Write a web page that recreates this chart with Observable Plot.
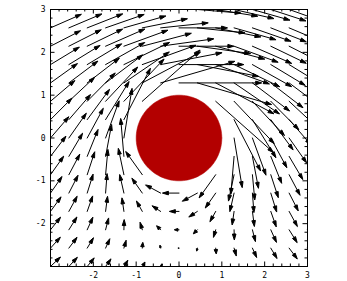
<!DOCTYPE html>
<html><head><meta charset="utf-8">
<script src="https://cdn.jsdelivr.net/npm/d3@7"></script>
<script src="https://cdn.jsdelivr.net/npm/@observablehq/plot@0.6"></script>
<style>body{margin:0;background:#fff}</style></head>
<body><div id="chart"></div>
<script>
// grid of arrow tails (x left->right, y top->bottom)
const gridX = [-3,-2.571,-2.143,-1.714,-1.286,-0.857,-0.429,0,0.429,0.857,1.286,1.714,2.143,2.571,3];
const gridY = [3,2.571,2.143,1.714,1.286,0.857,0.429,0,-0.429,-0.857,-1.286,-1.714,-2.143,-2.571,-3];
// horizontal component of each arrow (rows follow gridY, columns gridX); null = inside the disk
const fieldU = [
 [0.729,0.772,0.821,0.876,0.932,0.982,1.018,1.031,1.018,0.982,0.932,0.876,0.821,0.772,0.729],
 [0.722,0.771,0.831,0.902,0.980,1.055,1.112,1.133,1.112,1.055,0.980,0.902,0.831,0.771,0.722],
 [0.704,0.758,0.829,0.919,1.029,1.146,1.243,1.281,1.243,1.146,1.029,0.919,0.829,0.758,0.704],
 [0.675,0.729,0.806,0.916,1.067,1.255,1.435,1.514,1.435,1.255,1.067,0.916,0.806,0.729,0.675],
 [0.630,0.678,0.752,0.869,1.061,1.361,1.734,1.931,1.734,1.361,1.061,0.869,0.752,0.678,0.630],
 [0.570,0.602,0.655,0.750,0.938,1.350,null,null,null,1.350,0.938,0.750,0.655,0.602,0.570],
 [0.500,0.508,0.522,0.550,0.619,null,null,null,null,null,0.619,0.550,0.522,0.508,0.500],
 [0.428,0.408,0.376,0.317,0.190,null,null,null,null,null,0.190,0.317,0.376,0.408,0.428],
 [0.361,0.320,0.254,0.141,-0.076,null,null,null,null,null,-0.076,0.141,0.254,0.320,0.361],
 [0.308,0.255,0.176,0.055,-0.131,-0.388,null,null,null,-0.388,-0.131,0.055,0.176,0.255,0.308],
 [0.270,0.214,0.138,0.035,-0.099,-0.244,-0.353,-0.387,-0.353,-0.244,-0.099,0.035,0.138,0.214,0.270],
 [0.247,0.194,0.128,0.046,-0.046,-0.136,-0.201,-0.225,-0.201,-0.136,-0.046,0.046,0.128,0.194,0.247],
 [0.235,0.188,0.133,0.071,0.006,-0.053,-0.095,-0.110,-0.095,-0.053,0.006,0.071,0.133,0.188,0.235],
 [0.231,0.191,0.147,0.099,0.052,0.012,-0.016,-0.026,-0.016,0.012,0.052,0.099,0.147,0.191,0.231],
 [0.233,0.199,0.164,0.127,0.093,0.064,0.045,0.038,0.045,0.064,0.093,0.127,0.164,0.199,0.233]
];
// vertical component of each arrow
const fieldV = [
 [0.275,0.276,0.268,0.249,0.213,0.157,0.084,0,-0.084,-0.157,-0.213,-0.249,-0.268,-0.276,-0.275],
 [0.317,0.326,0.327,0.314,0.278,0.213,0.117,0,-0.117,-0.213,-0.278,-0.314,-0.327,-0.326,-0.317],
 [0.362,0.384,0.400,0.402,0.375,0.302,0.172,0,-0.172,-0.302,-0.375,-0.402,-0.400,-0.384,-0.362],
 [0.409,0.448,0.486,0.516,0.518,0.453,0.277,0,-0.277,-0.453,-0.518,-0.516,-0.486,-0.448,-0.409],
 [0.452,0.510,0.579,0.657,0.725,0.721,0.505,0,-0.505,-0.721,-0.725,-0.657,-0.579,-0.510,-0.452],
 [0.485,0.561,0.662,0.800,0.988,1.197,null,null,null,-1.197,-0.988,-0.800,-0.662,-0.561,-0.485],
 [0.501,0.587,0.707,0.891,1.200,null,null,null,null,null,-1.200,-0.891,-0.707,-0.587,-0.501],
 [0.497,0.580,0.695,0.869,1.159,null,null,null,null,null,-1.159,-0.869,-0.695,-0.580,-0.497],
 [0.472,0.541,0.630,0.746,0.886,null,null,null,null,null,-0.886,-0.746,-0.630,-0.541,-0.472],
 [0.433,0.482,0.537,0.591,0.616,0.542,null,null,null,-0.542,-0.616,-0.591,-0.537,-0.482,-0.433],
 [0.387,0.417,0.443,0.456,0.434,0.349,0.191,0,-0.191,-0.349,-0.434,-0.456,-0.443,-0.417,-0.387],
 [0.340,0.355,0.362,0.353,0.317,0.243,0.132,0,-0.132,-0.243,-0.317,-0.353,-0.362,-0.355,-0.340],
 [0.295,0.300,0.295,0.277,0.239,0.178,0.095,0,-0.095,-0.178,-0.239,-0.277,-0.295,-0.300,-0.295],
 [0.256,0.253,0.243,0.221,0.185,0.135,0.071,0,-0.071,-0.135,-0.185,-0.221,-0.243,-0.253,-0.256],
 [0.222,0.215,0.201,0.179,0.147,0.105,0.055,0,-0.055,-0.105,-0.147,-0.179,-0.201,-0.215,-0.222]
];
const diskCenter = [0, 0];
const diskRadius = 1;
const majorTicks = [-3,-2,-1,0,1,2,3];
const xTickLabels = [-2,-1,0,1,2,3];
const yTickLabels = [3,2,1,0,-1,-2];

const W = 347, H = 281, ML = 50, MR = 40, MT = 9, MB = 15;
const k = 6 / (W - ML - MR); // data units per pixel (equal on both axes)

// arrows: shaft + filled head as one polyline per arrow
const arrowPts = [];
let id = 0;
gridY.forEach((y, r) => gridX.forEach((x, c) => {
  const u = fieldU[r][c], v = fieldV[r][c];
  if (u == null || v == null) return;
  const L = Math.hypot(u, v);
  if (L === 0) return;
  const ux = u / L, uy = v / L;
  const Lpx = L / k;
  const hl = Math.min(6, Lpx * 0.75) * k, hw = Math.min(1.8, Lpx * 0.3) * k;
  const tx = x + u, ty = y + v;
  const bx = tx - ux * hl, by = ty - uy * hl;
  const pts = [[x, y], [bx, by], [bx - uy * hw, by + ux * hw], [tx, ty], [bx + uy * hw, by - ux * hw], [bx, by]];
  pts.forEach(([px, py]) => arrowPts.push({id, x: px, y: py}));
  id++;
}));

const diskPts = d3.range(0, 361, 3).map(a => ({
  x: diskCenter[0] + diskRadius * Math.cos(a * Math.PI / 180),
  y: diskCenter[1] + diskRadius * Math.sin(a * Math.PI / 180)
}));

const minorTicks = d3.range(-30, 31, 2).map(d => d / 10).filter(d => !majorTicks.includes(d));
const maj = 4.5 * k, mnr = 2.5 * k;

const chart = Plot.plot({
  width: W, height: H,
  marginLeft: ML, marginRight: MR, marginTop: MT, marginBottom: MB,
  x: {domain: [-3, 3]},
  y: {domain: [-3, 3]},
  style: {background: "white", fontFamily: "'DejaVu Sans Mono', monospace", fontSize: "8px", color: "black"},
  marks: [
    Plot.line(arrowPts, {x: "x", y: "y", z: "id", stroke: "black", fill: "black", strokeWidth: 1, clip: true}),
    Plot.line(diskPts, {x: "x", y: "y", fill: "#b30000", stroke: "#b30000", strokeWidth: 0.5}),
    Plot.ruleX(majorTicks, {x: d => d, y1: -3, y2: -3 + maj, stroke: "black"}),
    Plot.ruleX(majorTicks, {x: d => d, y1: 3, y2: 3 - maj, stroke: "black"}),
    Plot.ruleY(majorTicks, {y: d => d, x1: -3, x2: -3 + maj, stroke: "black"}),
    Plot.ruleY(majorTicks, {y: d => d, x1: 3, x2: 3 - maj, stroke: "black"}),
    Plot.ruleX(minorTicks, {x: d => d, y1: -3, y2: -3 + mnr, stroke: "black"}),
    Plot.ruleX(minorTicks, {x: d => d, y1: 3, y2: 3 - mnr, stroke: "black"}),
    Plot.ruleY(minorTicks, {y: d => d, x1: -3, x2: -3 + mnr, stroke: "black"}),
    Plot.ruleY(minorTicks, {y: d => d, x1: 3, x2: 3 - mnr, stroke: "black"}),
    Plot.frame({stroke: "black", strokeWidth: 1}),
    Plot.axisX(xTickLabels, {tickSize: 0, tickPadding: 6, tickFormat: d => String(d), label: null, fontSize: 8, fontFamily: "DejaVu Sans Mono"}),
    Plot.axisY(yTickLabels, {tickSize: 0, tickPadding: 5, tickFormat: d => String(d), label: null, fontSize: 8, fontFamily: "DejaVu Sans Mono"})
  ]
});
document.getElementById("chart").appendChild(chart);
</script>
</body></html>
